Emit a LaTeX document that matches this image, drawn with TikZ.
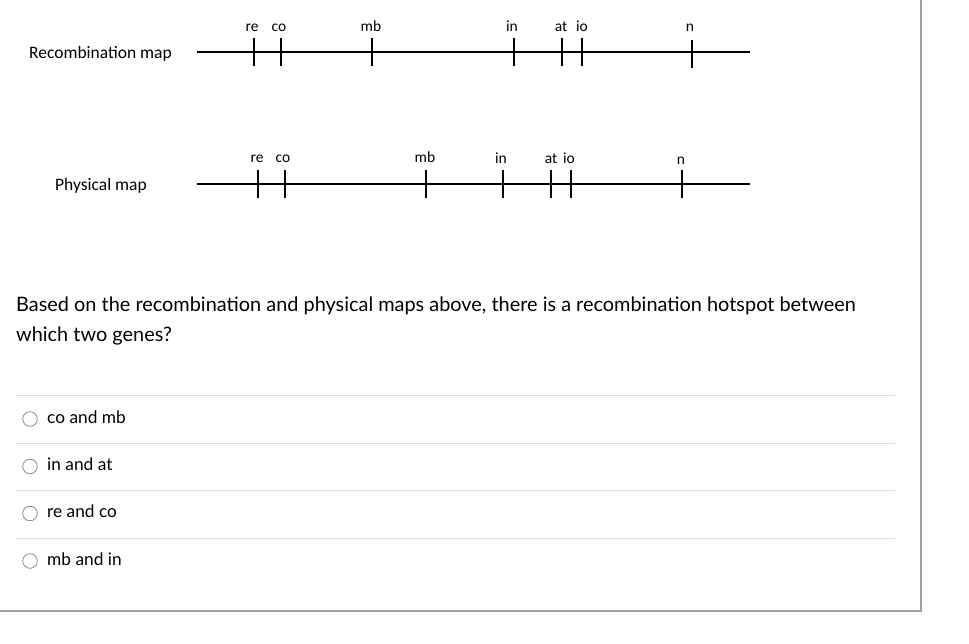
\documentclass[tikz,border=0pt]{standalone}
\usepackage{fontspec}
\setmainfont{Lato}
\newfontfamily\mapfont{Carlito}
\definecolor{framegray}{HTML}{A0A0A0}
\definecolor{rulegray}{HTML}{DDDDDD}
\definecolor{radiogray}{HTML}{8A8A8A}
\begin{document}
\begin{tikzpicture}[x=1pt,y=-1pt,
  gene/.style={font=\mapfont\fontsize{15.5}{18}\selectfont, anchor=base, inner sep=0pt},
  mapname/.style={font=\mapfont\fontsize{17.5}{20}\selectfont, anchor=base east, inner sep=0pt},
  spot/.style={inner sep=0pt, minimum size=0pt},
  chrom/.style={line width=2.3pt},
  tickmark/.style={line width=2.3pt},
  question/.style={font=\fontsize{19.9}{24}\selectfont, anchor=base west, inner sep=0pt},
  choice/.style={font=\fontsize{17.3}{20}\selectfont, anchor=base west, inner sep=0pt},
  radio/.style={circle, draw=radiogray, line width=0.8pt, minimum size=14.6pt, inner sep=0pt},
  rowrule/.style={draw=rulegray, line width=1pt}]
\useasboundingbox (0,0) rectangle (969,643);
% recombination map
\path node[mapname] (recname) at (172,58) {Recombination map}
node[spot] (Rl) at (197,52) {}
node[spot] (Rr) at (750,52) {}
node[spot] (Rre) at (254,52) {}
node[spot] (Rco) at (281,52) {}
node[spot] (Rmb) at (372,52) {}
node[spot] (Rin) at (514,52) {}
node[spot] (Rat) at (562,52) {}
node[spot] (Rio) at (582,52) {}
node[spot] (Rn) at (692,52) {}
node[gene] (Lre) at (252,31) {re}
node[gene] (Lco) at (279,31) {co}
node[gene] (Lmb) at (371,31) {mb}
node[gene] (Lin) at (512,31) {in}
node[gene] (Lat) at (561,31) {at}
node[gene] (Lio) at (582,31) {io}
node[gene] (Ln) at (690,31) {n}
;
\draw[chrom] (Rl) -- (Rr);
\draw[tickmark] (Rre) +(0,-14) -- +(0,14);
\draw[tickmark] (Rco) +(0,-14) -- +(0,14);
\draw[tickmark] (Rmb) +(0,-14) -- +(0,14);
\draw[tickmark] (Rin) +(0,-14) -- +(0,14);
\draw[tickmark] (Rat) +(0,-14) -- +(0,14);
\draw[tickmark] (Rio) +(0,-14) -- +(0,14);
\draw[tickmark] (Rn) +(0,-12) -- +(0,16);
% physical map
\path node[mapname] (physname) at (147,190) {Physical map}
node[spot] (Pl) at (197,184) {}
node[spot] (Pr) at (750,184) {}
node[spot] (Pre) at (258,184) {}
node[spot] (Pco) at (285,184) {}
node[spot] (Pmb) at (426,184) {}
node[spot] (Pin) at (503,184) {}
node[spot] (Pat) at (551,184) {}
node[spot] (Pio) at (571,184) {}
node[spot] (Pn) at (682,184) {}
node[gene] (Mre) at (257,162) {re}
node[gene] (Mco) at (283,162) {co}
node[gene] (Mmb) at (425,162) {mb}
node[gene] (Min) at (501,163) {in}
node[gene] (Mat) at (551,163) {at}
node[gene] (Mio) at (569,163) {io}
node[gene] (Mn) at (681,164) {n}
;
\draw[chrom] (Pl) -- (Pr);
\draw[tickmark] (Pre) +(0,-14) -- +(0,14);
\draw[tickmark] (Pco) +(0,-14) -- +(0,14);
\draw[tickmark] (Pmb) +(0,-14) -- +(0,14);
\draw[tickmark] (Pin) +(0,-14) -- +(0,14);
\draw[tickmark] (Pat) +(0,-14) -- +(0,14);
\draw[tickmark] (Pio) +(0,-14) -- +(0,14);
\draw[tickmark] (Pn) +(0,-14) -- +(0,14);
% question and answers
\path node[question] (q1) at (16,311) {Based on the recombination and physical maps above, there is a recombination hotspot between}
node[question] (q2) at (16,341) {which two genes?}
node[radio] (r1) at (30,419) {}
node[radio] (r2) at (30,466.5) {}
node[radio] (r3) at (30,513.5) {}
node[radio] (r4) at (30,561) {}
node[choice] (a1) at (47,423) {co and mb}
node[choice] (a2) at (47,470.5) {in and at}
node[choice] (a3) at (47,517.5) {re and co}
node[choice] (a4) at (47,565) {mb and in}
;
\draw[rowrule] (15,395.5) -- (895,395.5);
\draw[rowrule] (15,443) -- (895,443);
\draw[rowrule] (15,490.5) -- (895,490.5);
\draw[rowrule] (15,538) -- (895,538);
\draw[draw=framegray, line width=1.3pt] (921,0) -- (921,611) -- (0,611);
\end{tikzpicture}
\end{document}
